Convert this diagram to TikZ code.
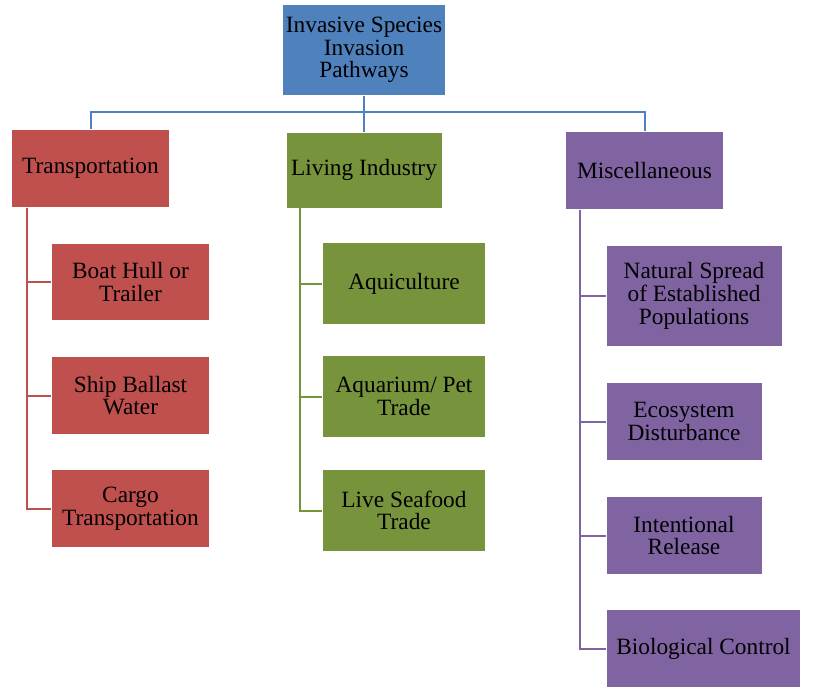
\documentclass[tikz,border=0pt]{standalone}
\usepackage{fontspec}
\setmainfont{Liberation Serif}
\usetikzlibrary{positioning,calc}
\definecolor{rootblue}{HTML}{4F81BD}
\definecolor{transred}{HTML}{C0504D}
\definecolor{livegreen}{HTML}{77933C}
\definecolor{miscpurple}{HTML}{8064A2}
\tikzset{
	box/.style={draw=white,line width=0.6pt,align=center,inner sep=1pt,
		font=\fontsize{17.5}{17}\selectfont},
	link/.style={line width=1.5pt}
}
\begin{document}
\begin{tikzpicture}[x=0.75pt,y=-0.75pt]
	\useasboundingbox (0,0) rectangle (813,690);

	\node[box,fill=rootblue,minimum width=122pt,minimum height=68pt] (root) at (364,50) {Invasive Species\\Invasion\\Pathways};

	\node[box,fill=transred,minimum width=118pt,minimum height=58pt] (trans) at (90.5,168.5) {Transportation};
	\node[box,fill=livegreen,minimum width=117pt,minimum height=57pt] (live) at (364,170) {Living Industry};
	\node[box,fill=miscpurple,minimum width=118pt,minimum height=58pt] (misc) at (644.5,170.5) {Miscellaneous};

	\node[box,fill=transred,minimum width=118pt,minimum height=58pt] (hull) at (130.5,282) {Boat Hull or\\Trailer};
	\node[box,fill=transred,minimum width=118pt,minimum height=58pt] (ballast) at (130.5,395.5) {Ship Ballast\\Water};
	\node[box,fill=transred,minimum width=118pt,minimum height=58pt] (cargo) at (130.5,508.5) {Cargo\\Transportation};

	\node[box,fill=livegreen,minimum width=122pt,minimum height=62pt] (aqui) at (404,283.5) {Aquiculture};
	\node[box,fill=livegreen,minimum width=122pt,minimum height=62pt] (pet) at (404,396.5) {Aquarium/ Pet\\Trade};
	\node[box,fill=livegreen,minimum width=122pt,minimum height=62pt] (seafood) at (404,510.5) {Live Seafood\\Trade};

	\node[box,fill=miscpurple,minimum width=132pt,minimum height=76pt] (spread) at (694,296) {Natural Spread\\of Established\\Populations};
	\node[box,fill=miscpurple,minimum width=117pt,minimum height=58pt] (eco) at (684,421.5) {Ecosystem\\Disturbance};
	\node[box,fill=miscpurple,minimum width=117pt,minimum height=58pt] (release) at (684,535.5) {Intentional\\Release};
	\node[box,fill=miscpurple,minimum width=146pt,minimum height=58pt] (bio) at (703.5,648.5) {Biological Control};

	% root to categories
	\coordinate (bus) at (364,112);
	\draw[link,rootblue] (root.south) -- (bus);
	\draw[link,rootblue] (trans.north) -- (trans.north |- bus) -- (misc.north |- bus) -- (misc.north);
	\draw[link,rootblue] (bus) -- (live.north);

	% category spines
	\foreach \cat/\col/\sx/\kids in {trans/transred/27/{hull,ballast,cargo},
		live/livegreen/300/{aqui,pet,seafood},
		misc/miscpurple/580/{spread,eco,release,bio}} {
		\foreach \kid in \kids {
			\draw[link,\col] (\sx,0 |- \cat.south) -- (\sx,0 |- \kid.west) -- (\kid.west);
		}
	}
\end{tikzpicture}
\end{document}
